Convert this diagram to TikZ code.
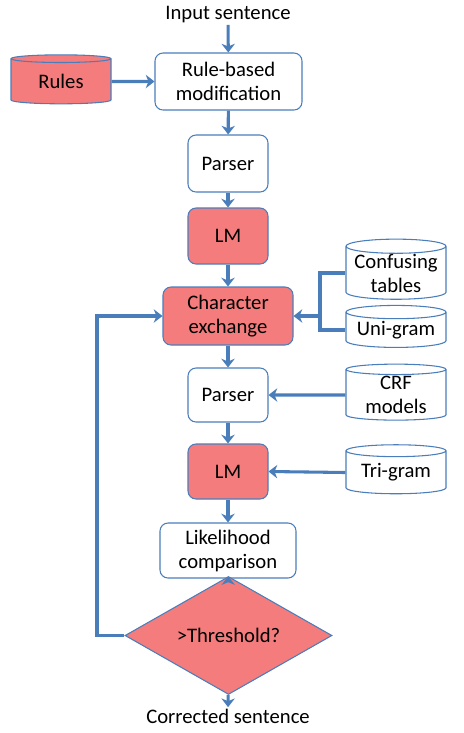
\documentclass[tikz,border=0pt]{standalone}
\usepackage{fontspec}
\setmainfont{Carlito}
\usetikzlibrary{shapes.geometric,arrows.meta}
\definecolor{bl}{RGB}{74,126,187}
\definecolor{rd}{RGB}{244,124,124}
\begin{document}
\begin{tikzpicture}[x=0.75pt,y=-0.75pt,
  font=\fontsize{15.5}{18}\selectfont,
  box/.style={draw=bl, line width=0.8pt, rounded corners=6pt, fill=white, align=center, inner sep=0pt},
  redbox/.style={box, fill=rd},
  db/.style={cylinder, shape border rotate=90, aspect=0.17, draw=bl, line width=0.8pt, fill=white, align=center, inner sep=0pt, minimum width=75pt},
  reddb/.style={db, fill=rd},
  conn/.style={draw=bl, line width=2.3pt},
  arr/.style={conn, -{Stealth[length=6.5pt,width=10pt,inset=2pt]}},
  lbl/.style={inner sep=1pt}
]
\useasboundingbox (0,0) rectangle (464,733);

\node[lbl] (in) at (228,15) {Input sentence};
\node[box, minimum width=110.25pt, minimum height=42.75pt] (rb) at (228.5,81.5) {Rule-based\\modification};
\node[reddb, minimum height=36.75pt] (rules) at (61,81.5) {Rules};
\node[box, minimum width=60pt, minimum height=42.75pt] (p1) at (228,163.5) {Parser};
\node[redbox, minimum width=60pt, minimum height=42pt] (lm1) at (228,236) {LM};
\node[redbox, minimum width=97.5pt, minimum height=43.5pt] (ce) at (228,316) {Character\\exchange};
\node[db, minimum height=43.5pt] (ct) at (396,273) {Confusing\\tables};
\node[db, minimum height=31.5pt] (ug) at (396,330) {Uni-gram};
\node[box, minimum width=60pt, minimum height=40.5pt] (p2) at (228,395) {Parser};
\node[db, minimum height=42pt] (crf) at (396,395) {CRF\\models};
\node[redbox, minimum width=60pt, minimum height=41.25pt] (lm2) at (228,471.5) {LM};
\node[db, minimum height=36.75pt] (tri) at (396,472.5) {Tri-gram};
\node[box, minimum width=102pt, minimum height=41.25pt] (lh) at (228,550.5) {Likelihood\\comparison};
\node[diamond, draw=bl, line width=0.8pt, fill=rd, inner sep=0pt, minimum width=155.25pt, minimum height=50.25pt] (dia) at (228.5,635.5) {>Threshold?};
\node[lbl] (out) at (228,716) {Corrected sentence};

\coordinate (j) at (320,316);
\coordinate (lp) at (97,635.5);

\draw[arr] (in) -- (rb);
\draw[arr] (rules) -- (rb);
\draw[arr] (rb) -- (p1);
\draw[arr] (p1) -- (lm1);
\draw[arr] (lm1) -- (ce);
\draw[arr] (ce) -- (p2);
\draw[arr] (p2) -- (lm2);
\draw[arr] (lm2) -- (lh);
\draw[arr] (lh) -- (dia);
\draw[arr] (dia) -- (out);
\draw[arr] (crf.west) -- (p2.east);
\draw[arr] (tri.west) -- (lm2.east);
\draw[conn] (ct.west) -| (j) |- (ug.west);
\draw[arr] (j) -- (ce.east);
\draw[arr] (dia.west) -- (lp) |- (ce.west);
\end{tikzpicture}
\end{document}
